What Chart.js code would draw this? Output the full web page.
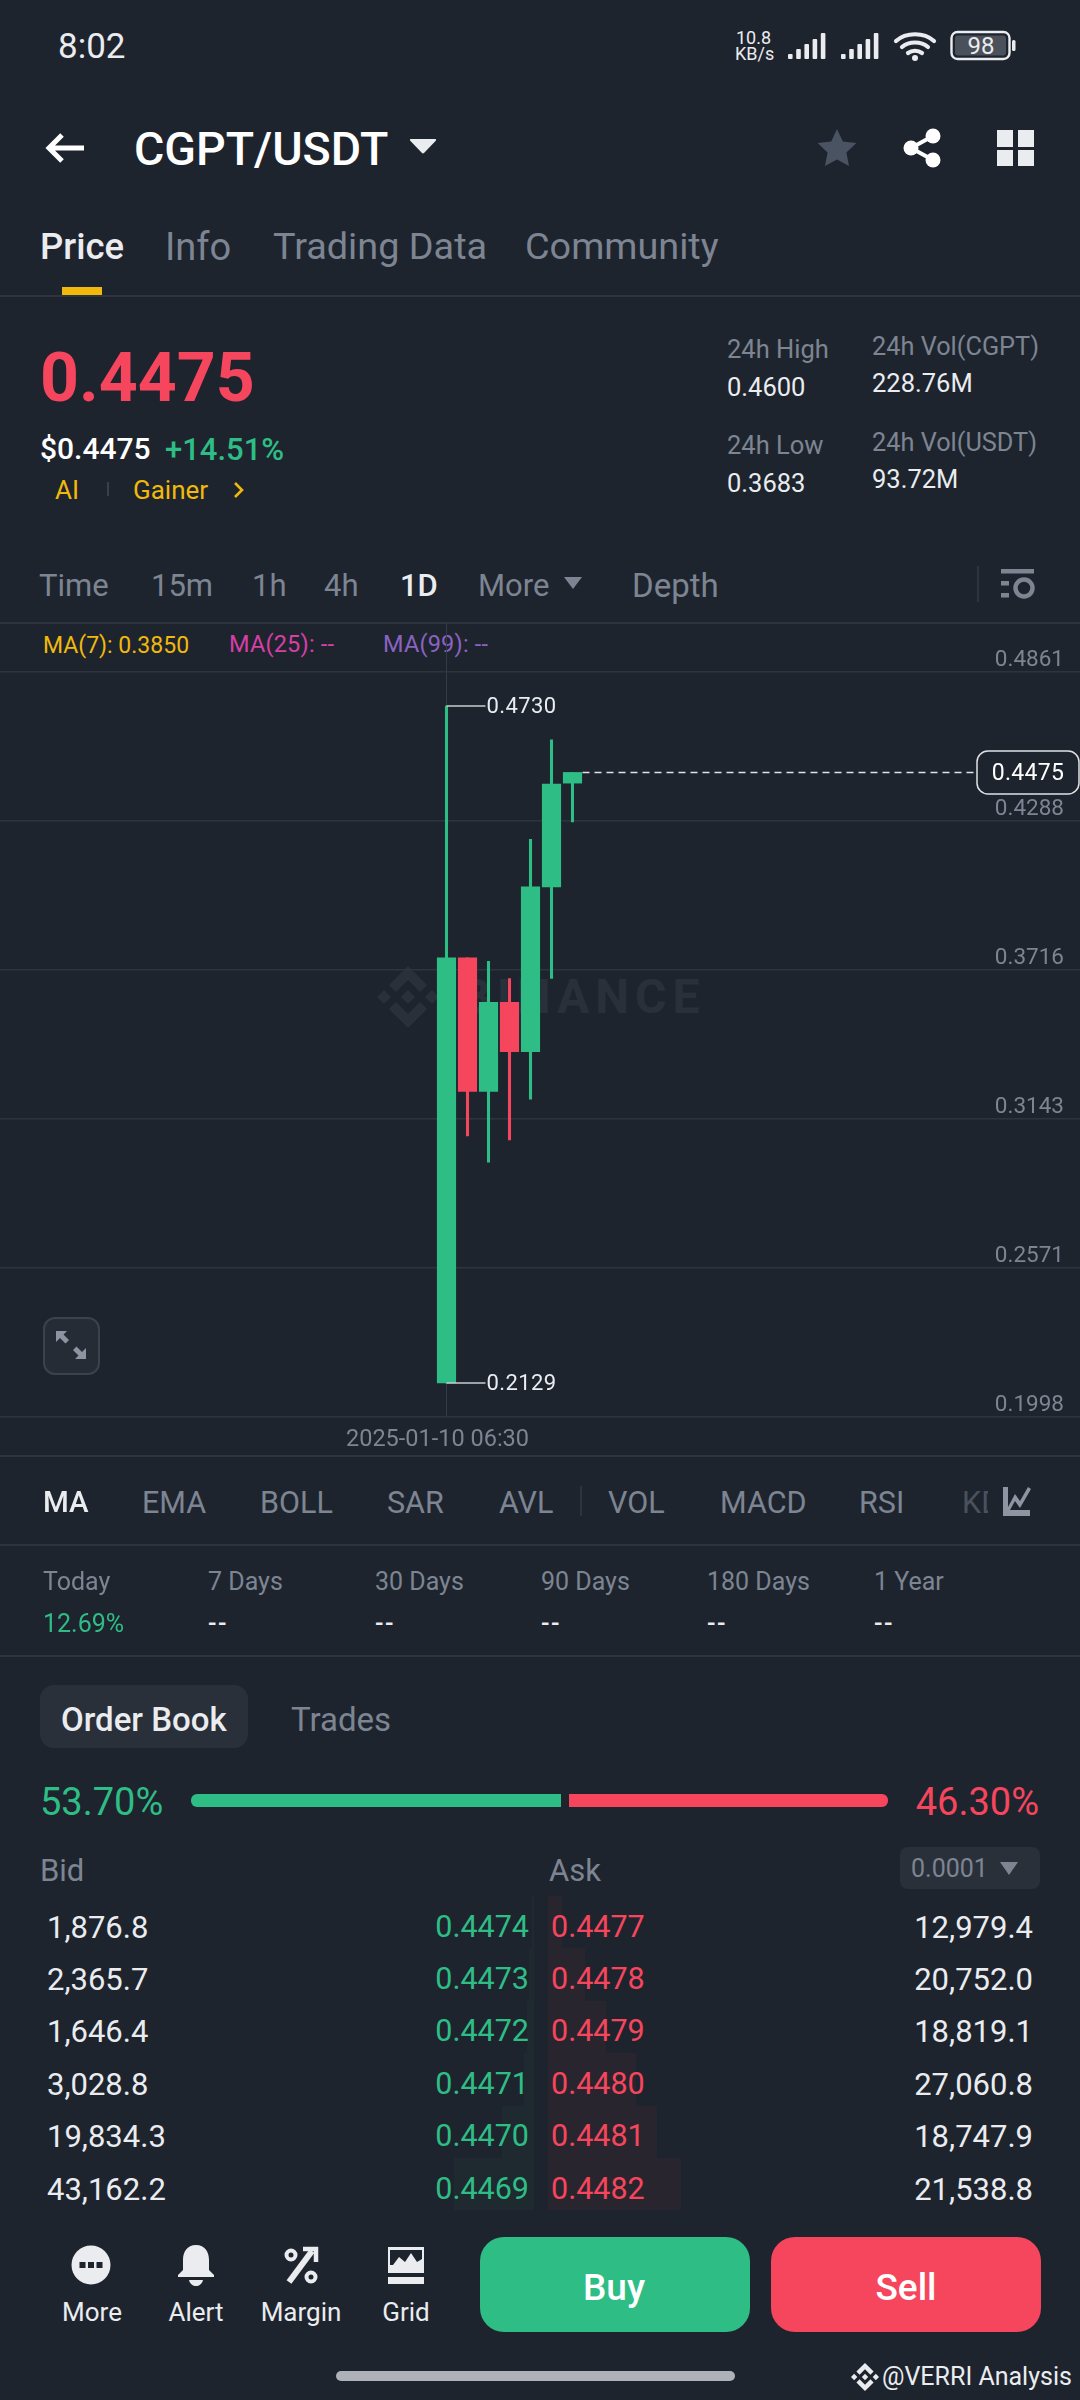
<!DOCTYPE html>
<html><head><meta charset="utf-8">
<script src="https://cdn.jsdelivr.net/npm/chart.js@4"></script>
<style>
html,body{margin:0;padding:0;background:#1e242e;width:1080px;height:2400px;overflow:hidden;font-family:Roboto,sans-serif}
#app{position:relative;width:1080px;height:2400px;overflow:hidden}
.t{position:absolute;line-height:1;white-space:nowrap;transform:translateY(-50%)}
.b{position:absolute}
svg{position:absolute;display:block}
canvas{position:absolute;left:0;top:623px}
</style></head><body><div id="app"></div>
<script>
// ---------- chart data ----------
const candleIndex=[0,1,2,3,4,5,6];
const candleOpen =[0.2129,0.3763,0.3249,0.3592,0.3402,0.4035,0.4434];
const candleClose=[0.3763,0.3249,0.3592,0.3402,0.4035,0.4430,0.4475];
const candleHigh =[0.4730,0.3763,0.3749,0.3683,0.4218,0.4600,0.4475];
const candleLow  =[0.2129,0.3078,0.2977,0.3063,0.3219,0.3683,0.4285];
const yTickLabels=['0.4861','0.4288','0.3716','0.3143','0.2571','0.1998'];
const xTickLabel='2025-01-10 06:30';
const chartHigh='0.4730', chartLow='0.2129', lastPrice='0.4475';
// ---------- order book data ----------
const bidQty=['1,876.8','2,365.7','1,646.4','3,028.8','19,834.3','43,162.2'];
const bidPrice=['0.4474','0.4473','0.4472','0.4471','0.4470','0.4469'];
const askPrice=['0.4477','0.4478','0.4479','0.4480','0.4481','0.4482'];
const askQty=['12,979.4','20,752.0','18,819.1','27,060.8','18,747.9','21,538.8'];
const bidShare=53.70, askShare=46.30;
const statLabels=['Today','7 Days','30 Days','90 Days','180 Days','1 Year'];
const statValues=['12.69%','--','--','--','--','--'];

const GREEN='#2ebd85',RED='#f6465d',GREY='#7d8592',YEL='#f0b90b',WHITE='#eaecef',LINE='#2e343e',PANEL='#2a303a';
const app=document.getElementById('app');
function t(s,x,y,size,color,weight,align){
  const d=document.createElement('div');d.className='t';d.textContent=s;
  d.style.fontSize=size+'px';d.style.color=color;d.style.fontWeight=weight||400;d.style.top=y+'px';
  if(align==='r'){d.style.right=(1080-x)+'px'}
  else if(align==='c'){d.style.left=x+'px';d.style.transform='translate(-50%,-50%)'}
  else d.style.left=x+'px';
  app.appendChild(d);return d;
}
function box(x,y,w,h,bg,r){
  const d=document.createElement('div');d.className='b';
  d.style.cssText+=`left:${x}px;top:${y}px;width:${w}px;height:${h}px;background:${bg};border-radius:${r||0}px`;
  app.appendChild(d);return d;
}
function svg(x,y,w,h,vb,inner){
  const wrap=document.createElement('div');
  wrap.innerHTML=`<svg style="left:${x}px;top:${y}px" width="${w}" height="${h}" viewBox="${vb}">${inner}</svg>`;
  app.appendChild(wrap.firstChild);
}
const LOGO='M38.73 53.2l24.59-24.58 24.6 24.6 14.3-14.31L63.32 0 24.42 38.9l14.31 14.3zM0 63.31l14.3-14.31 14.31 14.31-14.31 14.3zM38.73 73.41l24.59 24.59 24.6-24.6 14.31 14.29-38.9 38.91-38.91-38.88-.02-.02 14.33-14.29zM98 63.31l14.3-14.31 14.31 14.31-14.31 14.3zM77.83 63.3L63.32 48.78 52.59 59.51l-1.24 1.23-2.54 2.54 14.51 14.5 14.51-14.47z';

// ---------- status bar ----------
t('8:02',58,46,35,WHITE,400);
t('10.8',736,38,18,WHITE);t('KB/s',735,54,18,WHITE);
function signal(x){let r='';[5,10,15,20,26].forEach((h,i)=>{r+=`<rect x="${i*8.2}" y="${26-h}" width="4.6" height="${h}" rx="1" fill="#eaecef"/>`});svg(x,33,40,26,'0 0 38 26',r)}
signal(787);signal(840);
svg(893,30,44,32,'0 0 44 32','<g fill="none" stroke="#eaecef" stroke-width="4.2" stroke-linecap="round"><path d="M3 11C13 2 31 2 41 11"/><path d="M9 17C16 11 28 11 35 17"/><path d="M15 23C19 20 25 20 29 23"/></g><circle cx="22" cy="28" r="3" fill="#eaecef"/>');
svg(950,30,68,32,'0 0 68 32','<rect x="1.5" y="2" width="58" height="27" rx="6" fill="none" stroke="#eaecef" stroke-width="2.4"/><rect x="5" y="5.5" width="51" height="20" rx="3" fill="#4b515b"/><rect x="62" y="10" width="3.5" height="11" rx="1.5" fill="#eaecef"/>');
t('98',981,46,24,WHITE,400,'c');

// ---------- header ----------
svg(44,132,44,32,'0 0 44 32','<path d="M40 16H6M18 3L5 16l13 13" fill="none" stroke="#fff" stroke-width="5"/>');
t('CGPT/USDT',134,149,46.5,'#fff',500);
svg(410,139,26,15,'0 0 26 15','<path d="M1 0h24a1 1 0 0 1 1 1.6L14 14a1.5 1.5 0 0 1-2 0L0 1.6A1 1 0 0 1 1 0z" fill="#eaecef"/>');
svg(817,128,40,40,'0 0 40 40','<path d="M20 1l5.8 12.5 13.6 1.6-10 9.4 2.6 13.5L20 31.4 8 38l2.6-13.5-10-9.4 13.6-1.6z" fill="#4a5362"/>');
svg(902,128,40,40,'0 0 40 40','<path d="M31 8L9 20l22 12" fill="none" stroke="#fff" stroke-width="4"/><circle cx="31" cy="8" r="7.5" fill="#fff"/><circle cx="9" cy="20" r="7.5" fill="#fff"/><circle cx="31" cy="32" r="7.5" fill="#fff"/>');
[[997,130],[1018,130],[997,150],[1018,150]].forEach(p=>box(p[0],p[1],16,p[1]===130?17:16,'#eaecef'));

// ---------- tabs ----------
t('Price',40,247,36.5,WHITE,500);
t('Info',165,247,38,GREY,400);
t('Trading Data',273,247,37.8,GREY,400);
t('Community',525,247,37.8,GREY,400);
box(62,287,40,8,YEL);
box(0,295,1080,1.5,LINE);

// ---------- price block ----------
t('0.4475',40,378,68,RED,700);
t('$0.4475',40,449,30,'#fff',500);
t('+14.51%',165,449,31,GREEN,500);
t('AI',55,490,26,YEL);box(107,482,1.5,14,'#3a404a');
t('Gainer',133,490,26,YEL);
svg(232,481,13,18,'0 0 13 18','<path d="M3 2l7 7-7 7" fill="none" stroke="#f0b90b" stroke-width="2.6"/>');
t('24h High',727,350,25.5,GREY);t('0.4600',727,388,25.5,WHITE);
t('24h Low',727,446,25.5,GREY);t('0.3683',727,484,25.5,WHITE);
t('24h Vol(CGPT)',872,347,25.3,GREY);t('228.76M',872,384,25.5,WHITE);
t('24h Vol(USDT)',872,443,25.3,GREY);t('93.72M',872,480,25.5,WHITE);

// ---------- time frames ----------
[['Time',39],['15m',151],['1h',252],['4h',324],['More',478]].forEach(a=>t(a[0],a[1],585,31,GREY));
t('Depth',632,585,33,GREY);
t('1D',400,585,31,WHITE,500);
svg(563,577,20,12,'0 0 20 12','<path d="M1 0h18L10 12z" fill="#7d8592"/>');
box(977,566,1.5,36,LINE);
svg(1000,568,35,32,'0 0 35 32','<rect x="1" y="1" width="33" height="4.5" fill="#7d8592"/><rect x="1" y="13" width="8" height="4.5" fill="#7d8592"/><rect x="1" y="25" width="8" height="4.5" fill="#7d8592"/><circle cx="24" cy="20" r="8.5" fill="none" stroke="#7d8592" stroke-width="4.5"/>');
box(0,622,1080,1.5,LINE);

// ---------- MA legend ----------
t('MA(7): 0.3850',43,645,23,YEL);
t('MA(25): --',229,645,23.5,'#d63fa6').style.letterSpacing='0.2px';
t('MA(99): --',383,645,23.5,'#8a63c2').style.letterSpacing='0.2px';

// ---------- watermark under the chart ----------
svg(377,965,62,64,'0 0 126.61 126.61',`<path d="${LOGO}" fill="#2a303a"/>`);
const wm=t('BINANCE',460,997,48,'#2a303a',700);wm.style.letterSpacing='6px';

// ---------- chart ----------
const cv=document.createElement('canvas');cv.width=1080;cv.height=832;cv.style.width='1080px';cv.style.height='832px';app.appendChild(cv);
const bodyPoints=candleIndex.map((x,i)=>({x,y:[candleOpen[i],candleClose[i]]}));
const wickPoints=candleIndex.map((x,i)=>({x,y:[candleLow[i],candleHigh[i]]}));
const candleColor=ctx=>{const i=ctx.dataIndex;return candleClose[i]>=candleOpen[i]?GREEN:RED};
const annotations={id:'annotations',afterDatasetsDraw(c){
  const g=c.ctx,xs=c.scales.x,ys=c.scales.y;
  const hx=xs.getPixelForValue(0);
  g.save();
  // crosshair continues above the plot up to the legend's top rule
  g.strokeStyle='#363c47';g.lineWidth=1;g.beginPath();g.moveTo(hx,0);g.lineTo(hx,c.chartArea.top);g.stroke();
  g.font='400 22px Roboto';g.textBaseline='middle';g.textAlign='left';
  g.letterSpacing='0.4px';
  [chartHigh,chartLow].forEach(v=>{
    const py=ys.getPixelForValue(+v);
    g.strokeStyle='#c9ccd1';g.lineWidth=1.5;g.beginPath();g.moveTo(hx,py);g.lineTo(hx+39,py);g.stroke();
    g.fillStyle=WHITE;g.fillText(v,hx+40,py+1.5);
  });
  const ly=ys.getPixelForValue(+lastPrice),lx=xs.getPixelForValue(candleIndex[candleIndex.length-1])+10;
  g.strokeStyle='#dfe1e5';g.lineWidth=1.5;g.setLineDash([7,5]);g.beginPath();g.moveTo(lx,ly);g.lineTo(977,ly);g.stroke();g.setLineDash([]);
  g.beginPath();g.roundRect(977,ly-21.5,102,43,11);g.fillStyle='#1e242e';g.fill();g.strokeStyle='#dfe1e5';g.lineWidth=1.5;g.stroke();
  g.fillStyle='#fff';g.font='400 23px Roboto';g.textAlign='center';g.letterSpacing='0.3px';g.fillText(lastPrice,1028,ly+2);
  g.restore();
}};
new Chart(cv,{
  type:'bar',
  data:{datasets:[
    {label:'wick',data:wickPoints,backgroundColor:candleColor,barThickness:2.4,grouped:false,order:2},
    {label:'body',data:bodyPoints,backgroundColor:candleColor,barThickness:18.5,grouped:false,order:1}
  ]},
  plugins:[annotations],
  options:{
    responsive:false,animation:false,devicePixelRatio:1,
    layout:{padding:{top:49,left:0,right:0,bottom:0}},
    plugins:{legend:{display:false},tooltip:{enabled:false}},
    scales:{
      x:{type:'linear',offset:false,min:-21.262,max:30.167,
        afterBuildTicks:s=>{s.ticks=[{value:candleIndex[0]}]},
        afterFit:s=>{s.height=38},
        border:{display:false},
        grid:{offset:false,color:'#363c47',lineWidth:1,drawTicks:false},
        ticks:{autoSkip:false,maxRotation:0,padding:9,labelOffset:-9,color:GREY,font:{family:'Roboto',size:23.5},callback:()=>xTickLabel}
      },
      y:{type:'linear',position:'right',min:+yTickLabels[5],max:+yTickLabels[0],
        afterBuildTicks:s=>{s.ticks=yTickLabels.map(v=>({value:+v}))},
        afterFit:s=>{s.width=0},
        border:{display:false},
        grid:{color:LINE,lineWidth:1.5,drawTicks:false},
        ticks:{mirror:true,padding:-16,labelOffset:-12,z:1,color:GREY,font:{family:'Roboto',size:22.5},
          callback:(v,i)=>yTickLabels[i]}
      }
    }
  }
});

// ---------- expand button ----------
box(43,1317,53,54,'#262c36',12).style.border='2px solid #3b424e';
svg(54,1329,34,32,'0 0 34 32','<g fill="#8d95a3"><path d="M2 2h11L9.5 5.5 15 11l-3.5 3.5L6 9 2 13z"/><path d="M32 30H21l3.5-3.5L19 21l3.5-3.5L28 23l4-4z"/></g>');
box(0,1455,1080,1.5,LINE);

// ---------- indicators ----------
t('MA',43,1503,29.5,WHITE,500);
[['EMA',142],['BOLL',260],['SAR',387],['AVL',499],['VOL',608],['MACD',720],['RSI',859]].forEach(a=>t(a[0],a[1],1503,30.5,GREY));
t('KD',962,1503,30.5,'#4b515c');
box(580,1486,1.5,30,LINE);
box(988,1482,60,40,'#1e242e');
svg(1003,1487,29,29,'0 0 29 29','<path d="M0 0h5v20l7-13 5 7 8-14 3 2-11 19-5-7-5 9h20v6H0z" fill="#8d95a3"/>');
box(0,1544,1080,1.5,LINE);

// ---------- period stats ----------
const statX=[43,208,375,541,707,874];
statLabels.forEach((s,i)=>{t(s,statX[i],1581,25,GREY);
  const v=t(statValues[i],statX[i],1623,25,i===0?GREEN:WHITE);
  if(i>0){v.style.letterSpacing='1.5px';v.style.fontWeight=500}
});
box(0,1655,1080,1.5,LINE);

// ---------- order book ----------
box(40,1685,208,63,PANEL,14);
t('Order Book',61,1719,33,WHITE,500);
t('Trades',291,1719,33,GREY);
t(bidShare.toFixed(2)+'%',40,1802,38,GREEN);
t(askShare.toFixed(2)+'%',1039,1802,38,RED,400,'r');
const barLeft=191,barRight=888,barGap=8,barW=barRight-barLeft-barGap;
const bidW=barW*bidShare/100*1.0;
box(barLeft,1794,bidW,13,GREEN).style.borderRadius='6px 0 0 6px';
box(barLeft+bidW+barGap,1794,barW-bidW,13,RED).style.borderRadius='0 6px 6px 0';
t('Bid',40,1870,31,GREY);t('Ask',549,1870,31,GREY);
box(900,1847,140,42,PANEL,8);
t('0.0001',911,1868,25,GREY);
svg(1000,1862,18,13,'0 0 18 13','<path d="M0 0h18L9 13z" fill="#7d8592"/>');
const num=s=>parseFloat(s.replace(/,/g,''));
let cb=0,ca=0;const rowTop=1896,rowH=52.4,depthScale=0.00111;
bidQty.forEach((q,i)=>{
  cb+=num(q);ca+=num(askQty[i]);
  const y=rowTop+i*rowH;
  box(534-cb*depthScale,y,cb*depthScale,rowH,'#1e2a30');
  box(547.5,y,ca*depthScale,rowH,'#28252f');
  const ty=y+30.5;
  t(q,47,ty,31,WHITE);
  t(bidPrice[i],529,ty,30.5,GREEN,400,'r');
  t(askPrice[i],551,ty,30.5,RED);
  t(askQty[i],1033,ty,31,WHITE,400,'r');
});

// ---------- bottom bar ----------
svg(71,2245,40,40,'0 0 40 40','<circle cx="20" cy="20" r="19.5" fill="#eaecef"/><g fill="#1e242e"><rect x="8.5" y="17" width="6" height="6"/><rect x="17" y="17" width="6" height="6"/><rect x="25.5" y="17" width="6" height="6"/></g>');
svg(177,2245,38,41,'0 0 38 41','<path d="M19 0c9 0 13 7 13 15v10l5 5v2H1v-2l5-5V15C6 7 10 0 19 0z" fill="#eaecef"/><path d="M12 35h14c-1 4-4 6-7 6s-6-2-7-6z" fill="#eaecef"/>');
svg(283,2246,36,40,'0 0 36 40','<g fill="none" stroke="#eaecef"><path d="M6 36L29 5" stroke-width="6"/><path d="M20 3h13v13" stroke-width="4.5"/><circle cx="8" cy="9" r="4.5" stroke-width="4"/><circle cx="28" cy="31" r="4.5" stroke-width="4"/></g>');
svg(388,2247,36,38,'0 0 36 38','<path d="M0 0h36v26H0zM5 18l6-8 6 5 6-9 6 9 5-3V3H2v15z" fill="#eaecef"/><rect y="30" width="36" height="7" fill="#eaecef"/>');
[['More',92],['Alert',196],['Margin',301],['Grid',406]].forEach(a=>t(a[0],a[1],2312,26,WHITE,400,'c'));
box(480,2237,270,95,GREEN,24);box(771,2237,270,95,RED,24);
t('Buy',614,2287,37,'#fff',500,'c');t('Sell',906,2287,37,'#fff',500,'c');
box(336,2371,399,10,'#aeb2b8',5);
svg(851,2362,28,30,'0 0 126.61 126.61',`<path d="${LOGO}" fill="#eaecef"/>`);
t('@VERRI Analysis',882,2376,25,WHITE);
</script></body></html>
